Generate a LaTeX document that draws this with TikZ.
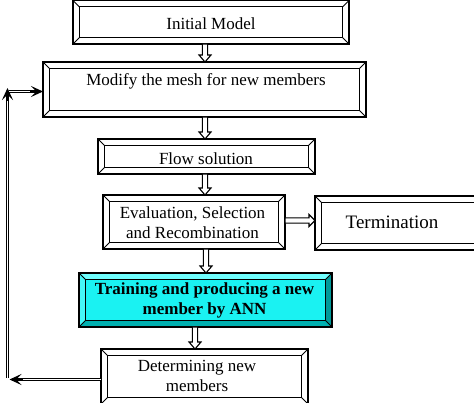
\documentclass[tikz,border=0pt]{standalone}
\usepackage{fontspec}
\setmainfont{Liberation Serif}
\usetikzlibrary{calc,arrows.meta}
\definecolor{cymain}{HTML}{1AF2F2}
\definecolor{cytop}{HTML}{70FFFF}
\definecolor{cyleft}{HTML}{45F7F7}
\definecolor{cyright}{HTML}{009A9A}
\definecolor{cybottom}{HTML}{00B0B0}
\newcommand{\bevcoords}{%
  \coordinate (pNW) at (path picture bounding box.north west);
  \coordinate (pNE) at (path picture bounding box.north east);
  \coordinate (pSE) at (path picture bounding box.south east);
  \coordinate (pSW) at (path picture bounding box.south west);
  \coordinate (iNW) at ([shift={(6.5pt,-6.5pt)}]pNW);
  \coordinate (iNE) at ([shift={(-6.5pt,-6.5pt)}]pNE);
  \coordinate (iSE) at ([shift={(-6.5pt,6.5pt)}]pSE);
  \coordinate (iSW) at ([shift={(6.5pt,6.5pt)}]pSW);}
\newcommand{\bevlines}{%
  \draw[line width=1pt] (iNW) rectangle (iSE);
  \draw[line width=1pt] (pNW) -- (iNW) (pNE) -- (iNE) (pSE) -- (iSE) (pSW) -- (iSW);}
\newcommand{\hollowdown}[2]{%
  \draw[line width=1.1pt, fill=white, line join=miter]
    ($(#1)+(-2.6,0)$) -- ($(#2)+(-2.6,-7)$) -- ($(#2)+(-6,-7)$) -- (#2)
    -- ($(#2)+(6,-7)$) -- ($(#2)+(2.6,-7)$) -- ($(#1)+(2.6,0)$) -- cycle;}
\newcommand{\hollowright}[2]{%
  \draw[line width=1.1pt, fill=white, line join=miter]
    ($(#1)+(0,-2.6)$) -- ($(#2)+(-6,-2.6)$) -- ($(#2)+(-6,-6)$) -- (#2)
    -- ($(#2)+(-6,6)$) -- ($(#2)+(-6,2.6)$) -- ($(#1)+(0,2.6)$) -- cycle;}
\begin{document}
\begin{tikzpicture}[x=1pt,y=-1pt,
  bevelbox/.style={draw, line width=1.5pt, inner sep=0, outer sep=0, rectangle,
    path picture={\bevcoords\bevlines}},
  cyanbox/.style={draw, line width=1.5pt, inner sep=0, outer sep=0, rectangle,
    path picture={\bevcoords
      \fill[cytop] (pNW) -- (pNE) -- (iNE) -- (iNW) -- cycle;
      \fill[cyright] (pNE) -- (pSE) -- (iSE) -- (iNE) -- cycle;
      \fill[cybottom] (pSE) -- (pSW) -- (iSW) -- (iSE) -- cycle;
      \fill[cyleft] (pSW) -- (pNW) -- (iNW) -- (iSW) -- cycle;
      \fill[cymain] (iNW) rectangle (iSE);
      \bevlines}},
  txt/.style={font=\fontsize{17}{20}\selectfont, align=center, inner sep=0},
  fb/.style={double, double distance=1.1pt, line width=1.2pt},
  fbtip/.style={line width=1.4pt, -{Stealth[length=12pt,width=11pt,inset=5.5pt]}}
  ]
\useasboundingbox (0,0) rectangle (474,403);
% boxes
\node[bevelbox, minimum width=276pt, minimum height=43.5pt] (init) at (211,22.25) {};
\node[bevelbox, minimum width=323pt, minimum height=55pt] (mod) at (204.5,89.5) {};
\node[bevelbox, minimum width=217pt, minimum height=35pt] (flow) at (206.5,156.5) {};
\node[bevelbox, minimum width=182pt, minimum height=54pt] (eval) at (194,222) {};
\node[bevelbox, minimum width=175pt, minimum height=54pt] (term) at (402.5,223) {};
\node[cyanbox, minimum width=253pt, minimum height=54pt] (train) at (205.5,300) {};
\node[bevelbox, minimum width=207pt, minimum height=55pt] (det) at (204.5,376.5) {};
% texts
\node[txt] (tinit) at (211,24) {Initial Model};
\node[txt] (tmod) at (206,81) {Modify the mesh for new members};
\node[txt] (tflow) at (206,159) {Flow solution};
\node[txt] (teval) at (192.5,223) {Evaluation, Selection\\and Recombination};
\node[txt, font=\fontsize{19}{22}\selectfont] (tterm) at (392,222) {Termination};
\node[txt, font=\fontsize{17}{20}\selectfont\bfseries] (ttrain) at (204.5,300) {Training and producing a new\\member by ANN};
\node[txt] (tdet) at (197,375.5) {Determining new\\members};
% hollow arrows
\coordinate (ax1) at (205,0);
\coordinate (ax2) at (206,0);
\coordinate (ax3) at (195,0);
\hollowdown{ax1 |- init.south}{ax1 |- mod.north}
\hollowdown{ax1 |- mod.south}{ax1 |- flow.north}
\hollowdown{ax1 |- flow.south}{ax1 |- eval.north}
\hollowdown{ax2 |- eval.south}{ax2 |- train.north}
\hollowdown{ax3 |- train.south}{ax3 |- det.north}
\coordinate (ay) at (0,220.5);
\hollowright{eval.east |- ay}{term.west |- ay}
% feedback loop
\coordinate (cy1) at (0,379.5);
\coordinate (cL) at (9.5,379.5);
\coordinate (cB) at (7.5,378);
\coordinate (cT) at (7.5,88);
\coordinate (cH) at (9,91.5);
\draw[fb] (det.west |- cy1) -- ($(cL)+(6,0)$);
\draw[fbtip] ($(cL)+(13,0)$) -- (cL);
\draw[fb] (cB) -- ($(cT)+(0,6)$);
\draw[fbtip] ($(cT)+(0,13)$) -- (cT);
\draw[fb] (cH) -- ($(mod.west |- cH)+(-6,0)$);
\draw[fbtip] ($(mod.west |- cH)+(-13,0)$) -- (mod.west |- cH);
\end{tikzpicture}
\end{document}
